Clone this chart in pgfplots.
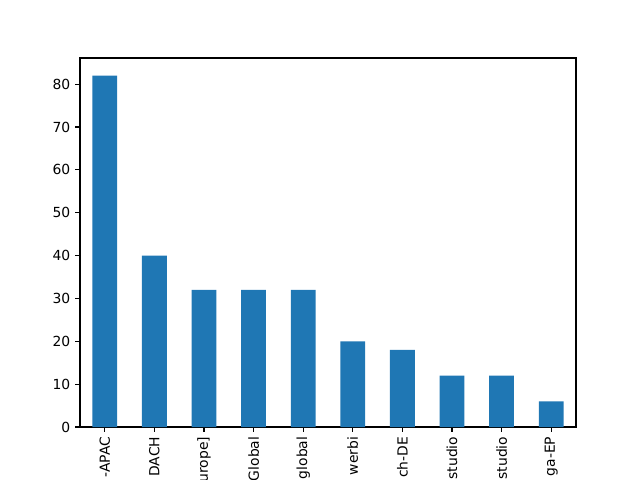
\documentclass[border=0pt]{standalone}
\usepackage{pgfplots}
\pgfplotsset{compat=1.18}
\usepackage{fontspec}
\setmainfont{DejaVu Sans}
\definecolor{mplblue}{HTML}{1F77B4}
\begin{document}
\begin{tikzpicture}
\begin{axis}[
  at={(0,0)}, anchor=south west,
  scale only axis,
  width=357.12pt, height=265.68pt,
  xmin=-0.5, xmax=9.5,
  ymin=0, ymax=86.1,
  ytick={0,10,20,30,40,50,60,70,80},
  xtick={0,1,2,3,4,5,6,7,8,9},
  xticklabels={-APAC,DACH,urope],Global,global,werbi,ch-DE,studio,studio,ga-EP},
  x tick label style={rotate=90, anchor=east},
  tick align=outside,
  major tick length=3.5pt,
  tick style={black, line width=0.8pt},
  axis line style={line width=0.8pt},
  xtick pos=bottom, ytick pos=left,
  font=\fontsize{10pt}{12pt}\selectfont,
  /pgf/number format/assume math mode=true,
  ticklabel style={font=\fontsize{10pt}{12pt}\selectfont},
]
\addplot[ybar, bar width=0.5, fill=mplblue, draw=none, bar shift=0pt] coordinates {
(0,82) (1,40) (2,32) (3,32) (4,32) (5,20) (6,18) (7,12) (8,12) (9,6)
};
\end{axis}
\pgfresetboundingbox
\path[use as bounding box] (-57.6pt,-38.16pt) rectangle (403.2pt,307.44pt);
\end{tikzpicture}
\end{document}
